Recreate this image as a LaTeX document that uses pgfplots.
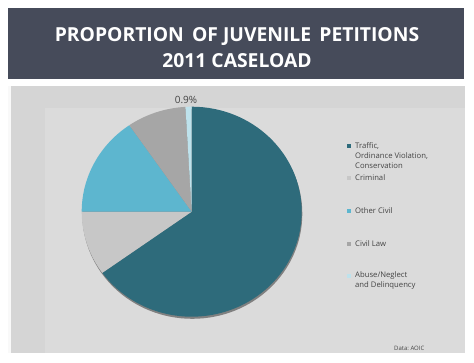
\documentclass[border=0pt]{standalone}
\usepackage{pgfplots}
\pgfplotsset{compat=1.18}
\usepackage{pgfplotstable}
\usepackage{fontspec}
\setmainfont{Open Sans}
\newfontfamily\titlefont{Open Sans}

\definecolor{banner}{HTML}{464B5A}
\definecolor{panel}{HTML}{D5D5D5}
\definecolor{panelin}{HTML}{DBDBDB}
\definecolor{cTraffic}{HTML}{2E6B7B}
\definecolor{cCriminal}{HTML}{C7C7C7}
\definecolor{cOther}{HTML}{5DB6CF}
\definecolor{cCivil}{HTML}{A6A6A6}
\definecolor{cAbuse}{HTML}{BEE2EC}
\definecolor{legtext}{HTML}{444444}

\pgfplotstableread{
value color
65.1 cTraffic
9.9 cCriminal
15.4 cOther
8.7 cCivil
0.9 cAbuse
}\piedata

\begin{document}
\begin{tikzpicture}
\begin{axis}[
  width=474pt, height=363pt, scale only axis,
  xmin=0, xmax=474, ymin=0, ymax=363, y dir=reverse,
  hide axis, clip=false,
]
% background
\fill[white] (axis cs:0,0) rectangle (axis cs:474,363);
% title banner
\fill[banner] (axis cs:8,8) rectangle (axis cs:464,79);
\node[text=white, font=\titlefont\fontsize{19.3}{26}\selectfont\bfseries, align=center]
  at (axis cs:237,48) {PROPORTION \,OF JUVENILE \,PETITIONS\\2011 CASELOAD};
% panel
\fill[panel] (axis cs:8,86) rectangle (axis cs:465,353);
\fill[panelin] (axis cs:45,108) rectangle (axis cs:465,353);
\fill[white!85!panel] (axis cs:8,86) rectangle (axis cs:11,353);
% pie shadow
\fill[black!50] (axis cs:192.3,213.8) ellipse [x radius=110pt, y radius=105pt];
% pie slices from data (clockwise from 12 o'clock)
\def\startA{90}
\pgfplotsforeachungrouped \i in {0,...,4}{%
  \pgfplotstablegetelem{\i}{value}\of\piedata \let\v=\pgfplotsretval
  \pgfplotstablegetelem{\i}{color}\of\piedata \let\c=\pgfplotsretval
  \pgfmathsetmacro\endA{\startA-3.6*\v}%
  \edef\temp{\noexpand\fill[\c] (axis cs:191.7,211.7) -- ++(\startA:110pt and 105pt)
     arc[start angle=\startA, end angle=\endA, x radius=110pt, y radius=105pt] -- cycle;}%
  \temp
  \global\let\startA\endA
}
\node[text=legtext, font=\fontsize{10}{12}\selectfont] at (axis cs:186,100) {0.9\%};
% legend
\begin{scope}[every node/.style={anchor=west, inner sep=0pt, text=legtext,
    font=\fontsize{7.7}{10}\selectfont, align=left}]
\fill[cTraffic] (axis cs:347,144) rectangle (axis cs:351,148);
\node at (axis cs:355,156) {Traffic,\\Ordinance Violation,\\Conservation};
\fill[cCriminal] (axis cs:347,176) rectangle (axis cs:351,180);
\node at (axis cs:355,178) {Criminal};
\fill[cOther] (axis cs:347,209) rectangle (axis cs:351,213);
\node at (axis cs:355,211) {Other Civil};
\fill[cCivil] (axis cs:347,242) rectangle (axis cs:351,246);
\node at (axis cs:355,244) {Civil Law};
\fill[cAbuse] (axis cs:347,274) rectangle (axis cs:351,278);
\node at (axis cs:355,280.5) {Abuse/Neglect\\and Delinquency};
\node[font=\fontsize{6}{7}\selectfont] at (axis cs:394,348) {Data:\ AOIC};
\end{scope}
\end{axis}
\end{tikzpicture}
\end{document}
